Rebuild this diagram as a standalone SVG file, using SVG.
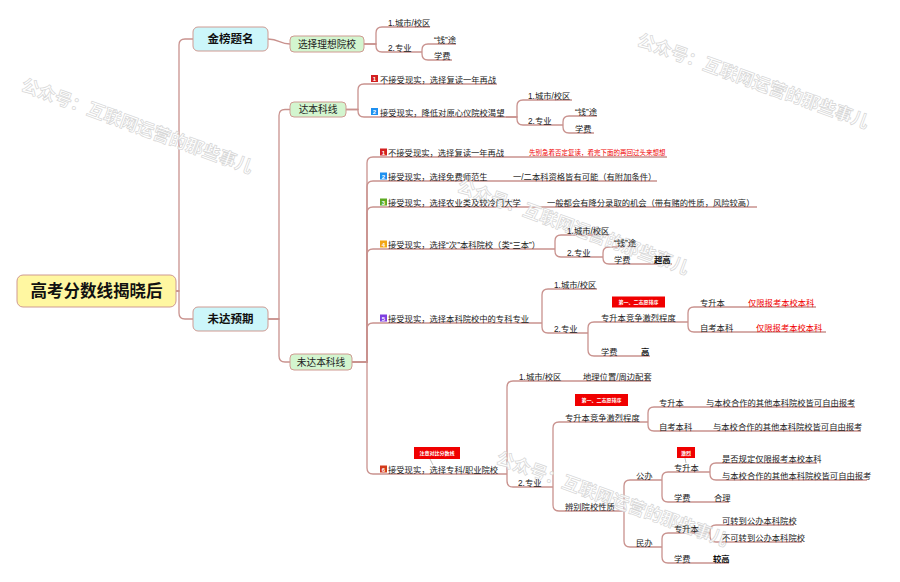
<svg xmlns="http://www.w3.org/2000/svg" width="900" height="582" viewBox="0 0 900 582">
<style>
.c{fill:none;stroke:#C9928E;stroke-width:1.3}
.bx{stroke:#CF9A92;stroke-width:1}
.t{font-family:"Liberation Sans","Noto Sans CJK SC",sans-serif;font-size:8.3px;fill:#222}
.b{font-weight:bold;fill:#111}
.r{fill:#F00000}
.sm{font-size:6.5px}
.h{font-family:"Liberation Sans","Noto Sans CJK SC",sans-serif;font-weight:bold;fill:#111;text-anchor:middle}
.m{font-family:"Liberation Sans","Noto Sans CJK SC",sans-serif;fill:#222;text-anchor:middle}
.lb{fill:#F00000}
.lt{font-family:"Noto Sans CJK SC",sans-serif;font-size:5px;font-weight:bold;fill:#fff;text-anchor:middle}
.ic{font-family:"Liberation Sans",sans-serif;font-size:6px;font-weight:bold;fill:#fff;text-anchor:middle}
.wm{font-family:"Noto Sans CJK SC",sans-serif;font-size:17.5px;font-weight:bold;fill:#fff;fill-opacity:0.85;stroke:#D6D6D6;stroke-width:0.7}
</style>
<rect width="900" height="582" fill="#fff"/>
<g id="connectors">
<path class="c" d="M176,291 H179 V45 Q179,39 185,39 H193"/>
<path class="c" d="M176,291 H179 V313 Q179,319 185,319 H193"/>
<path class="c" d="M268,39 C280,39 279,44 290,44"/>
<path class="c" d="M364,44 H376 V33 Q376,27 382,27 H430"/>
<path class="c" d="M364,44 H376 V46 Q376,52 382,52 H422"/>
<path class="c" d="M422,52 V50 Q422,44 428,44 H456"/>
<path class="c" d="M422,52 V54 Q422,60 428,60 H452"/>
<path class="c" d="M268,319 H279 V115.5 Q279,109.5 285,109.5 H290"/>
<path class="c" d="M268,319 H279 V356 Q279,362 285,362 H290"/>
<path class="c" d="M346,109.5 H358 V90 Q358,84 364,84 H497"/>
<path class="c" d="M346,109.5 H358 V111 Q358,117 364,117 H506"/>
<path class="c" d="M506,117 H517 V106 Q517,100 523,100 H572"/>
<path class="c" d="M506,117 H517 V119 Q517,125 523,125 H563"/>
<path class="c" d="M563,125 V122 Q563,116 569,116 H597"/>
<path class="c" d="M563,125 V127 Q563,133 569,133 H594"/>
<path class="c" d="M352,362 H367 V163 Q367,157 373,157 H667"/>
<path class="c" d="M352,362 H367 V187 Q367,181 373,181 H657"/>
<path class="c" d="M352,362 H367 V213 Q367,207 373,207 H757"/>
<path class="c" d="M352,362 H367 V255 Q367,249 373,249 H555"/>
<path class="c" d="M352,362 H367 V329 Q367,323 373,323 H542"/>
<path class="c" d="M352,362 H367 V468 Q367,474 373,474 H507"/>
<path class="c" d="M555,249 V241 Q555,235 561,235 H610"/>
<path class="c" d="M555,249 V251 Q555,257 561,257 H603"/>
<path class="c" d="M603,257 V253 Q603,247 609,247 H636"/>
<path class="c" d="M603,257 V258 Q603,264 609,264 H672"/>
<path class="c" d="M542,323 V295 Q542,289 548,289 H597"/>
<path class="c" d="M542,323 V327 Q542,333 548,333 H588"/>
<path class="c" d="M588,333 V328 Q588,322 594,322 H688"/>
<path class="c" d="M588,333 V350 Q588,356 594,356 H650"/>
<path class="c" d="M688,322 V313 Q688,307 694,307 H816"/>
<path class="c" d="M688,322 V326 Q688,332 694,332 H826"/>
<path class="c" d="M507,474 V387 Q507,381 513,381 H651"/>
<path class="c" d="M507,474 V481 Q507,487 513,487 H553"/>
<path class="c" d="M553,487 V428 Q553,422 559,422 H648"/>
<path class="c" d="M553,487 V505 Q553,511 559,511 H624"/>
<path class="c" d="M648,422 V413 Q648,407 654,407 H855"/>
<path class="c" d="M648,422 V425 Q648,431 654,431 H861"/>
<path class="c" d="M624,511 V486 Q624,480 630,480 H662"/>
<path class="c" d="M624,511 V541 Q624,547 630,547 H662"/>
<path class="c" d="M662,480 V478 Q662,472 668,472 H710"/>
<path class="c" d="M662,480 V496 Q662,502 668,502 H729"/>
<path class="c" d="M710,472 V469 Q710,463 716,463 H817"/>
<path class="c" d="M710,472 V474 Q710,480 716,480 H867"/>
<path class="c" d="M662,547 V539 Q662,533 668,533 H710"/>
<path class="c" d="M662,547 V557 Q662,563 668,563 H729"/>
<path class="c" d="M710,533 V531 Q710,525 716,525 H794"/>
<path class="c" d="M710,533 V536 Q710,542 716,542 H802"/>
</g>
<g id="watermarks">
<text class="wm" transform="translate(20,90) rotate(20)">公众号：互联网运营的那些事儿</text>
<text class="wm" transform="translate(636,45) rotate(20)">公众号：互联网运营的那些事儿</text>
<text class="wm" transform="translate(456,191) rotate(20)">公众号：互联网运营的那些事儿</text>
<text class="wm" transform="translate(495,463) rotate(20)">公众号：互联网运营的那些事儿</text>
</g>
<g id="root"><rect class="bx" x="17" y="275" width="159" height="32" rx="6" fill="#FFF7A1"/><text class="h" x="96.5" y="297.3" font-size="16.5">高考分数线揭晓后</text></g>
<g id="n-jinbang"><rect class="bx" x="193" y="27" width="75" height="24" rx="5" fill="#CCF6FA"/><text class="h" x="230.5" y="43.4" font-size="11.5">金榜题名</text></g>
<g id="n-weida"><rect class="bx" x="193" y="307" width="75" height="24" rx="5" fill="#CCF6FA"/><text class="h" x="230.5" y="323.4" font-size="11.5">未达预期</text></g>
<g id="n-xuanze"><rect class="bx" x="290" y="36" width="74" height="16" rx="4" fill="#D3F5CF"/><text class="m" x="327" y="47.7" font-size="9.7">选择理想院校</text></g>
<g id="n-dabenke"><rect class="bx" x="290" y="102" width="56" height="15" rx="4" fill="#D3F5CF"/><text class="m" x="318" y="113.2" font-size="9.7">达本科线</text></g>
<g id="n-weidabenke"><rect class="bx" x="290" y="354" width="62" height="16" rx="4" fill="#D3F5CF"/><text class="m" x="321" y="365.7" font-size="9.7">未达本科线</text></g>
<g id="n-a1"><text class="t" x="388" y="25.5">1.城市/校区</text></g>
<g id="n-a2"><text class="t" x="388" y="50.5">2.专业</text></g>
<g id="n-a3"><text class="t" x="434" y="42.5">“钱”途</text></g>
<g id="n-a4"><text class="t" x="434" y="58.5">学费</text></g>
<g id="n-d1"><rect x="371" y="75" width="7" height="7" fill="#D32020"/><text class="ic" x="374.5" y="81">1</text><text class="t" x="380" y="82.5">不接受现实，选择复读一年再战</text></g>
<g id="n-d2"><rect x="371" y="108" width="7" height="7" fill="#1E90F0"/><text class="ic" x="374.5" y="114">2</text><text class="t" x="380" y="115.5">接受现实，降低对原心仪院校渴望</text></g>
<g id="n-d3"><text class="t" x="528" y="98.5">1.城市/校区</text></g>
<g id="n-d4"><text class="t" x="528" y="123.5">2.专业</text></g>
<g id="n-d5"><text class="t" x="575" y="114.5">“钱”途</text></g>
<g id="n-d6"><text class="t" x="575" y="131.5">学费</text></g>
<g id="n-w1"><rect x="380" y="148.5" width="7" height="7" fill="#D32020"/><text class="ic" x="383.5" y="154.5">1</text><text class="t" x="388" y="155.5">不接受现实，选择复读一年再战</text><text class="t r sm" x="529" y="155">先别急着否定复读，看完下面的再回过头来想想</text></g>
<g id="n-w2"><rect x="380" y="172.5" width="7" height="7" fill="#1E90F0"/><text class="ic" x="383.5" y="178.5">2</text><text class="t" x="388" y="179.5">接受现实，选择免费师范生</text><text class="t" x="513" y="179.5">一/二本科资格皆有可能（有附加条件）</text></g>
<g id="n-w3"><rect x="380" y="198.5" width="7" height="7" fill="#5DAA22"/><text class="ic" x="383.5" y="204.5">3</text><text class="t" x="388" y="205.5">接受现实，选择农业类及较冷门大学</text><text class="t" x="547" y="205.5">一般都会有降分录取的机会（带有赌的性质，风险较高）</text></g>
<g id="n-w4"><rect x="380" y="240.5" width="7" height="7" fill="#F2A516"/><text class="ic" x="383.5" y="246.5">4</text><text class="t" x="388" y="247.5">接受现实，选择“次”本科院校（类“三本”）</text></g>
<g id="n-w4a"><text class="t" x="567" y="233.5">1.城市/校区</text></g>
<g id="n-w4b"><text class="t" x="567" y="255.5">2.专业</text></g>
<g id="n-w4c"><text class="t" x="614" y="245.5">“钱”途</text></g>
<g id="n-w4d"><text class="t" x="614" y="262.5">学费</text><text class="t b" x="654" y="262.5">超高</text></g>
<g id="n-w5"><rect x="380" y="314.5" width="7" height="7" fill="#7E3FE0"/><text class="ic" x="383.5" y="320.5">5</text><text class="t" x="388" y="321.5">接受现实，选择本科院校中的专科专业</text></g>
<g id="n-w5a"><text class="t" x="554" y="287.5">1.城市/校区</text></g>
<g id="n-w5b"><text class="t" x="554" y="331.5">2.专业</text></g>
<g id="n-w5c"><rect class="lb" x="612" y="296.5" width="53" height="11"/><text class="lt" x="638.5" y="304">第一、二志愿排序</text><text class="t" x="601" y="320.5">专升本竞争激烈程度</text></g>
<g id="n-w5d"><text class="t" x="601" y="354.5">学费</text><text class="t b" x="641" y="354.5">高</text></g>
<g id="n-w5e"><text class="t" x="700" y="305.5">专升本</text><text class="t r" x="748" y="305.5">仅限报考本校本科</text></g>
<g id="n-w5f"><text class="t" x="700" y="330.5">自考本科</text><text class="t r" x="756" y="330.5">仅限报考本校本科</text></g>
<g id="n-w6"><rect x="380" y="465.5" width="7" height="7" fill="#D33A1A"/><text class="ic" x="383.5" y="471.5">6</text><text class="t" x="388" y="472.5">接受现实，选择专科/职业院校</text><rect class="lb" x="414" y="447" width="46" height="12"/><text class="lt" x="437" y="455">注意对比分数线</text><path d="M430,459 L433,465" stroke="#999" stroke-width="0.6" fill="none"/></g>
<g id="n-w6a"><text class="t" x="519" y="379.5">1.城市/校区</text><text class="t" x="583" y="379.5">地理位置/周边配套</text></g>
<g id="n-w6b"><text class="t" x="518" y="485.5">2.专业</text></g>
<g id="n-w6c"><rect class="lb" x="575" y="394" width="53" height="12"/><text class="lt" x="601.5" y="402">第一、二志愿排序</text><text class="t" x="565" y="420.5">专升本竞争激烈程度</text></g>
<g id="n-w6d"><text class="t" x="659" y="405.5">专升本</text><text class="t" x="706" y="405.5">与本校合作的其他本科院校皆可自由报考</text></g>
<g id="n-w6e"><text class="t" x="659" y="429.5">自考本科</text><text class="t" x="713" y="429.5">与本校合作的其他本科院校皆可自由报考</text></g>
<g id="n-w6f"><text class="t" x="565" y="509.5">辨别院校性质</text></g>
<g id="n-w6g"><text class="t" x="636" y="478.5">公办</text></g>
<g id="n-w6h"><rect class="lb" x="677" y="447" width="18" height="11"/><text class="lt" x="686" y="454.5">激烈</text><path d="M685,458 L686,463" stroke="#999" stroke-width="0.6" fill="none"/><text class="t" x="674" y="470.5">专升本</text></g>
<g id="n-w6i"><text class="t" x="722" y="461.5">是否规定仅限报考本校本科</text></g>
<g id="n-w6j"><text class="t" x="722" y="478.5">与本校合作的其他本科院校皆可自由报考</text></g>
<g id="n-w6k"><text class="t" x="674" y="500.5">学费</text><text class="t" x="714" y="500.5">合理</text></g>
<g id="n-w6l"><text class="t" x="636" y="545.5">民办</text></g>
<g id="n-w6m"><text class="t" x="674" y="531.5">专升本</text></g>
<g id="n-w6n"><text class="t" x="722" y="523.5">可转到公办本科院校</text></g>
<g id="n-w6o"><text class="t" x="722" y="540.5">不可转到公办本科院校</text></g>
<g id="n-w6p"><text class="t" x="674" y="561.5">学费</text><text class="t b" x="713" y="561.5">较高</text></g>
</svg>
